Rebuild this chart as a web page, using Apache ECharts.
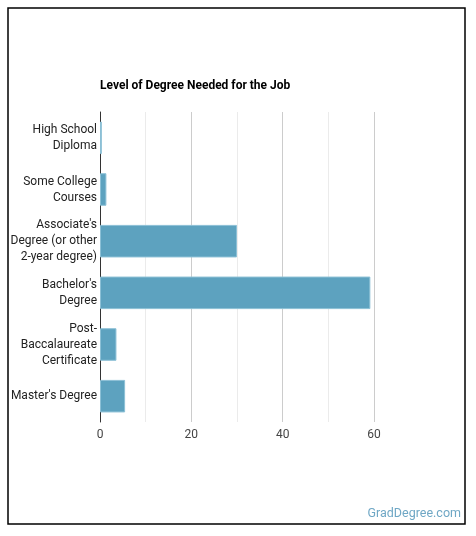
<!DOCTYPE html>
<html><head><meta charset="utf-8">
<script src="https://cdn.jsdelivr.net/npm/echarts@6/dist/echarts.min.js"></script>
<style>html,body{margin:0;padding:0;background:#fff}#c{width:476px;height:536px}</style>
</head><body><div id="c"></div>
<script>
const categories = ["High School\nDiploma","Some College\nCourses","Associate's\nDegree (or other\n2-year degree)","Bachelor's\nDegree","Post-\nBaccalaureate\nCertificate","Master's Degree"];
const values = [0.4, 1.4, 30.0, 59.2, 3.6, 5.5];
const xTicks = [0, 20, 40, 60];
const chart = echarts.init(document.getElementById('c'), null, {renderer:'canvas'});
chart.setOption({
  animation:false,
  backgroundColor:'#fff',
  title:{text:'Level of Degree Needed for the Job',left:95,top:75,textStyle:{fontFamily:'Roboto',fontSize:12,fontWeight:'bold',color:'#000'}},
  graphic:[
    {type:'rect',shape:{x:8,y:8,width:457,height:516},style:{fill:'none',stroke:'#000',lineWidth:1.5},z:100},
    {type:'text',right:15,top:507,style:{text:'GradDegree.com',fill:'#6fa7c5',font:'12.5px Roboto'}}
  ],
  grid:{left:100,right:102,top:112,bottom:114,containLabel:false},
  xAxis:{type:'value',min:xTicks[0],max:xTicks[xTicks.length-1],interval:20,
    axisLine:{show:false},axisTick:{show:false},
    axisLabel:{color:'#444',fontFamily:'Roboto',fontSize:12,margin:7},
    splitLine:{show:true,lineStyle:{color:'#ccc',width:1}},
    minorTick:{show:false,splitNumber:2},
    minorSplitLine:{show:true,lineStyle:{color:'#ebebeb',width:1}}},
  yAxis:{type:'category',data:categories,inverse:true,
    axisLine:{show:true,lineStyle:{color:'#333',width:1}},axisTick:{show:false},
    axisLabel:{color:'#222',fontFamily:'Roboto',fontSize:12,lineHeight:16,margin:3,align:'right'}},
  series:[{type:'bar',data:values,barCategoryGap:'37%',
    itemStyle:{color:'#5da2bf',borderColor:'#8cc0d6',borderWidth:1}}]
});
</script></body></html>
